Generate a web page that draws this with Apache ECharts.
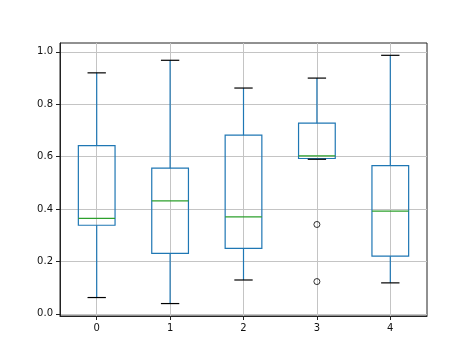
<!DOCTYPE html>
<html><head><meta charset="utf-8">
<script src="https://cdn.jsdelivr.net/npm/echarts@6/dist/echarts.min.js"></script>
<style>html,body{margin:0;padding:0;background:#fff}#c{width:474px;height:355px}</style>
</head><body><div id="c"></div>
<script>
const categories = ['0', '1', '2', '3', '4'];
const whiskerLow = [0.062, 0.039, 0.129, 0.590, 0.118];
const q1 = [0.338, 0.231, 0.250, 0.593, 0.220];
const median = [0.364, 0.431, 0.370, 0.603, 0.392];
const q3 = [0.642, 0.556, 0.682, 0.728, 0.566];
const whiskerHigh = [0.920, 0.968, 0.862, 0.900, 0.987];
const outliers = [[3, 0.341], [3, 0.123]];
const yTicks = [0, 0.2, 0.4, 0.6, 0.8, 1.0];

const boxData = categories.map((c, i) => [i, whiskerLow[i], q1[i], median[i], q3[i], whiskerHigh[i]]);

const chart = echarts.init(document.getElementById('c'));
const font = 'DejaVu Sans';
chart.setOption({
  animation: false,
  backgroundColor: '#fff',
  grid: {left: 60, right: 47, top: 43, bottom: 39, show: true, borderColor: '#222', borderWidth: 1},
  xAxis: {
    type: 'value', min: -0.5, max: 4.5,
    axisLine: {show: true, onZero: false, lineStyle: {color: '#222', width: 1}},
    axisTick: {show: true, length: 4, lineStyle: {color: '#222'}, customValues: [0,1,2,3,4]},
    axisLabel: {customValues: [0,1,2,3,4], formatter: v => categories[Math.round(v)], color: '#111', fontFamily: font, fontSize: 10, margin: 7},
    splitLine: {show: true, lineStyle: {color: '#c4c4c4', width: 1}}
  },
  yAxis: {
    type: 'value', min: -0.0085, max: 1.034,
    axisLine: {show: true, onZero: false, lineStyle: {color: '#222', width: 1}},
    axisTick: {show: true, length: 4, lineStyle: {color: '#222'}, customValues: yTicks},
    axisLabel: {customValues: yTicks, formatter: v => v.toFixed(1), color: '#111', fontFamily: font, fontSize: 10, margin: 7},
    splitLine: {show: true, lineStyle: {color: '#c4c4c4', width: 1}}
  },
  series: [
    {
      type: 'custom',
      data: boxData,
      encode: {x: 0, y: [1, 2, 3, 4, 5]},
      renderItem: function (params, api) {
        const x = api.value(0);
        const w = api.size([0.5, 0])[0];
        const cw = w / 2;
        const pLow = api.coord([x, api.value(1)]);
        const pQ1 = api.coord([x, api.value(2)]);
        const pMed = api.coord([x, api.value(3)]);
        const pQ3 = api.coord([x, api.value(4)]);
        const pHigh = api.coord([x, api.value(5)]);
        const cx = pQ1[0];
        const blue = {stroke: '#1f77b4', lineWidth: 1.2, fill: null};
        return {
          type: 'group',
          children: [
            {type: 'rect', shape: {x: cx - w / 2, y: pQ3[1], width: w, height: pQ1[1] - pQ3[1]}, style: {stroke: '#1f77b4', lineWidth: 1.2, fill: 'transparent'}},
            {type: 'line', shape: {x1: cx, y1: pQ1[1], x2: cx, y2: pLow[1]}, style: blue},
            {type: 'line', shape: {x1: cx, y1: pQ3[1], x2: cx, y2: pHigh[1]}, style: blue},
            {type: 'line', shape: {x1: cx - cw / 2, y1: pLow[1], x2: cx + cw / 2, y2: pLow[1]}, style: {stroke: '#000', lineWidth: 1.2}},
            {type: 'line', shape: {x1: cx - cw / 2, y1: pHigh[1], x2: cx + cw / 2, y2: pHigh[1]}, style: {stroke: '#000', lineWidth: 1.2}},
            {type: 'line', shape: {x1: cx - w / 2, y1: pMed[1], x2: cx + w / 2, y2: pMed[1]}, style: {stroke: '#2ca02c', lineWidth: 1.2}}
          ]
        };
      }
    },
    {
      type: 'scatter',
      data: outliers,
      symbol: 'circle',
      symbolSize: 6,
      itemStyle: {color: 'transparent', borderColor: '#000', borderWidth: 1}
    }
  ]
});
</script></body></html>
